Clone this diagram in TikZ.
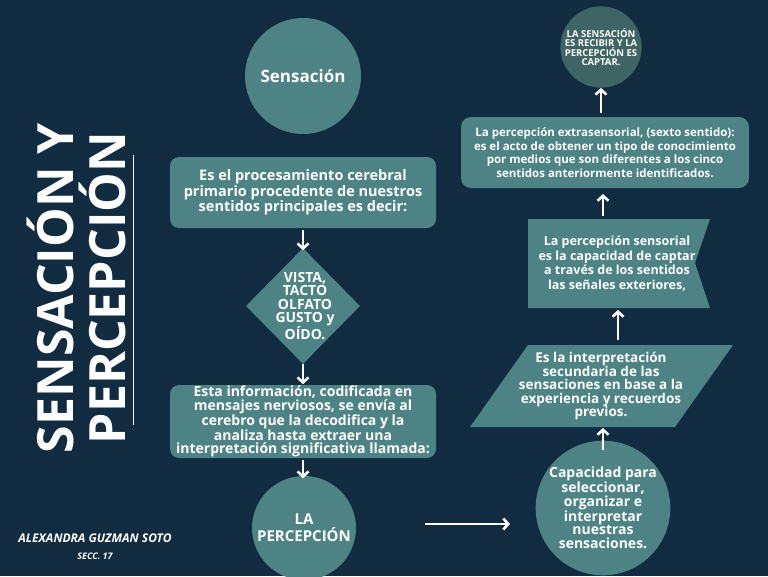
\documentclass[tikz,border=0pt]{standalone}
\usepackage{fontspec}
\setmainfont{Open Sans}
\usetikzlibrary{arrows.meta,shapes.geometric}
\definecolor{bg}{HTML}{112B41}
\definecolor{teal}{HTML}{4E8385}
\definecolor{dteal}{HTML}{3E6463}
\tikzset{
 shp/.style={fill=teal,text=white,font=\bfseries,align=center,inner sep=0pt},
 arr/.style={white,line width=2.6pt,-{Straight Barb[length=5pt,width=11pt]}},
}
\begin{document}
\begin{tikzpicture}[x=1pt,y=-1pt]
\fill[bg] (0,0) rectangle (768,576);
\useasboundingbox (0,0) rectangle (768,576);
% title
\node[white,rotate=90,font=\bfseries\fontsize{50}{52}\selectfont,align=center] (title) at (76,288) {SENSACIÓN Y\\PERCEPCIÓN};
\draw[white,line width=1pt] (133,155) -- (133,425);
\node[white,font=\bfseries\itshape\fontsize{12}{14}\selectfont] (auth) at (95,538) {ALEXANDRA GUZMAN SOTO};
\node[white,font=\bfseries\itshape\fontsize{9}{11}\selectfont] (secc) at (95,556) {SECC. 17};
% left column
\node[shp,circle,minimum size=116pt,font=\bfseries\fontsize{17}{19}\selectfont] (sens) at (303,76) {Sensación};
\node[shp,rounded corners=9pt,minimum width=266pt,minimum height=71pt,font=\bfseries\fontsize{14.5}{14}\selectfont] (b1) at (303,192.5) {Es el procesamiento cerebral\\primario procedente de nuestros\\sentidos principales es decir:};
\node[shp,diamond,minimum width=114pt,minimum height=116pt] (dia) at (303,306) {};
\node[white,font=\bfseries\fontsize{14}{13.5}\selectfont,align=center] at (305,306) {VISTA,\\TACTO\\OLFATO\\GUSTO y\\OÍDO.};
\node[shp,rounded corners=9pt,minimum width=266pt,minimum height=73pt,font=\bfseries\fontsize{14}{13.5}\selectfont] (b2) at (303,421.5) {Esta información, codificada en\\mensajes nerviosos, se envía al\\cerebro que la decodifica y la\\analiza hasta extraer una\\interpretación significativa llamada:};
\node[shp,circle,minimum size=104pt,font=\bfseries\fontsize{15}{17}\selectfont] (perc) at (304,528) {LA\\PERCEPCIÓN};
\draw[arr] (b1.south) ++(0,2) -- ++(0,20);
\draw[arr] (dia.south) ++(0,0) -- ++(0,20);
\draw[arr] (b2.south) ++(0,2) -- ++(0,18);
\coordinate (pa) at (425,524);
\coordinate (pb) at (510,524);
\draw[arr] (pa) -- (pb);
% right column
\node[shp,circle,minimum size=114pt,font=\bfseries\fontsize{14}{13.5}\selectfont] (cap) at (603,508) {Capacidad para\\seleccionar,\\organizar e\\interpretar\\nuestras\\sensaciones.};
\fill[teal] (528,345) -- (733,345) -- (675,427) -- (470,427) -- cycle;
\node[white,font=\bfseries\fontsize{13.5}{13.5}\selectfont,align=center] (par) at (601,386) {Es la interpretación\\secundaria de las\\sensaciones en base a la\\experiencia y recuerdos\\previos.};
\fill[teal] (528,219) -- (710,219) -- (695,263) -- (710,308) -- (528,308) -- cycle;
\node[white,font=\bfseries\fontsize{12.5}{14.5}\selectfont,align=center] (rib) at (617,263.5) {La percepción sensorial\\es la capacidad de captar\\a través de los sentidos\\las señales exteriores,};
\node[shp,rounded corners=10pt,minimum width=288pt,minimum height=71pt,font=\bfseries\fontsize{11.5}{13.5}\selectfont] (b3) at (605,152.5) {La percepción extrasensorial, (sexto sentido):\\es el acto de obtener un tipo de conocimiento\\por medios que son diferentes a los cinco\\sentidos anteriormente identificados.};
\node[shp,circle,fill=dteal,minimum size=80pt,font=\bfseries\fontsize{9.5}{9.5}\selectfont] (top) at (601,47) {LA SENSACIÓN\\ES RECIBIR Y LA\\PERCEPCIÓN ES\\CAPTAR.};
\coordinate (a1) at (603,450); \coordinate (a2) at (603,428);
\draw[arr] (a1) -- (a2);
\coordinate (a3) at (618,340); \coordinate (a4) at (618,310);
\draw[arr] (a3) -- (a4);
\coordinate (a5) at (603,216); \coordinate (a6) at (603,194);
\draw[arr] (a5) -- (a6);
\draw[arr] (b3.north) ++(-4,-4) -- (top.south);
\end{tikzpicture}
\end{document}
